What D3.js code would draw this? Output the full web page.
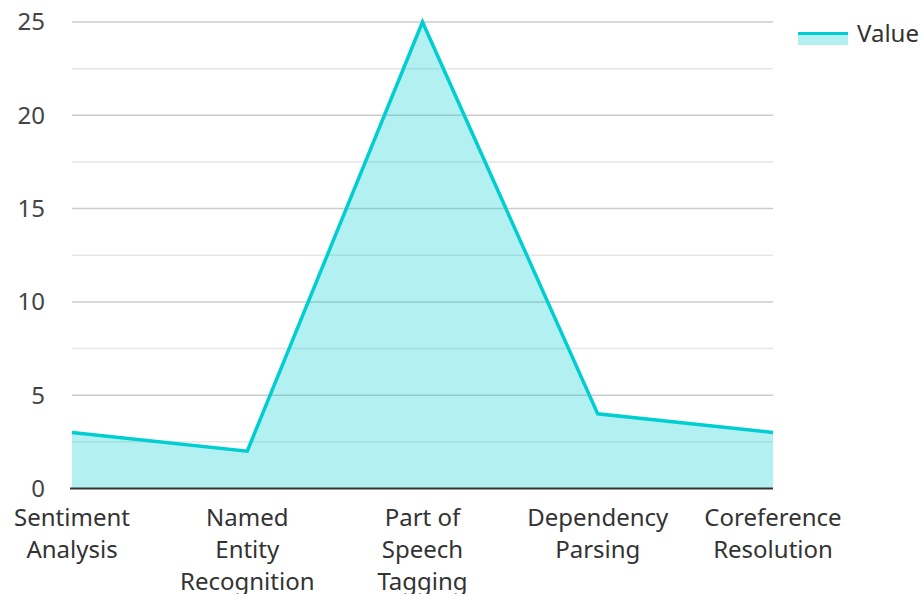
<!DOCTYPE html>
<html><head><meta charset="utf-8">
<script src="https://cdn.jsdelivr.net/npm/d3@7"></script>
<style>
body{margin:0;background:#fff;}
text{font-family:"Noto Sans",sans-serif;}
</style></head>
<body><svg id="c" width="922" height="594"></svg>
<script>
const categories = ["Sentiment Analysis","Named Entity Recognition","Part of Speech Tagging","Dependency Parsing","Coreference Resolution"];
const values = [3, 2, 25, 4, 3];
const yTicks = [0, 5, 10, 15, 20, 25];
const minorTicks = [2.5, 7.5, 12.5, 17.5, 22.5];
const seriesName = "Value";

(function(){
const svg = d3.select("#c");
const mLeft = 72, mRight = 773, mTop = 22, mBottom = 488.5;
const x = d3.scalePoint().domain(categories).range([mLeft, mRight]);
const y = d3.scaleLinear().domain([0, 25]).range([mBottom, mTop]);
const color = "#00CED1";
const fs = 24;

svg.append("g").selectAll("line").data(minorTicks).join("line")
  .attr("x1", mLeft).attr("x2", mRight).attr("y1", d=>y(d)).attr("y2", d=>y(d))
  .attr("stroke", "#e6e6e6").attr("stroke-width", 1.5);
svg.append("g").selectAll("line").data(yTicks.filter(d=>d>0)).join("line")
  .attr("x1", mLeft).attr("x2", mRight).attr("y1", d=>y(d)).attr("y2", d=>y(d))
  .attr("stroke", "#cccccc").attr("stroke-width", 1.5);

const area = d3.area().x((d,i)=>x(categories[i])).y0(y(0)).y1(d=>y(d));
const line = d3.line().x((d,i)=>x(categories[i])).y(d=>y(d));
svg.append("path").datum(values).attr("d", area).attr("fill", color).attr("fill-opacity", 0.3);
svg.append("path").datum(values).attr("d", line).attr("fill", "none").attr("stroke", color).attr("stroke-width", 3.5).attr("stroke-linejoin","miter");

svg.append("line").attr("x1", mLeft-2).attr("x2", mRight).attr("y1", y(0)).attr("y2", y(0))
  .attr("stroke", "#333").attr("stroke-width", 2);

svg.append("g").selectAll("text").data(yTicks).join("text")
  .attr("x", 45).attr("y", d=>y(d)).attr("dy", "0.35em").attr("text-anchor", "end")
  .attr("font-size", fs).attr("fill", "#444").text(d=>d);

const xl = svg.append("g").selectAll("text").data(categories).join("text")
  .attr("x", d=>x(d)).attr("y", 526).attr("text-anchor", "middle")
  .attr("font-size", fs).attr("fill", "#333");
xl.each(function(d){
  const t = d3.select(this);
  const words = d.split(" ");
  let lines = [], cur = [];
  words.forEach(w=>{
    const test = cur.concat([w]).join(" ");
    t.text(test);
    if (this.getComputedTextLength() > 140 && cur.length) { lines.push(cur.join(" ")); cur=[w]; }
    else cur.push(w);
  });
  lines.push(cur.join(" "));
  t.text(null);
  lines.forEach((l,i)=>t.append("tspan").attr("x", x(d)).attr("dy", i===0?0:32).text(l));
});

const lg = svg.append("g");
lg.append("rect").attr("x", 798).attr("y", 33).attr("width", 50).attr("height", 12).attr("fill", color).attr("fill-opacity", 0.3);
lg.append("line").attr("x1", 798).attr("x2", 848).attr("y1", 33.5).attr("y2", 33.5).attr("stroke", color).attr("stroke-width", 3);
lg.append("text").attr("x", 857).attr("y", 42).attr("font-size", fs).attr("fill", "#333").text(seriesName);
})();
</script></body></html>
